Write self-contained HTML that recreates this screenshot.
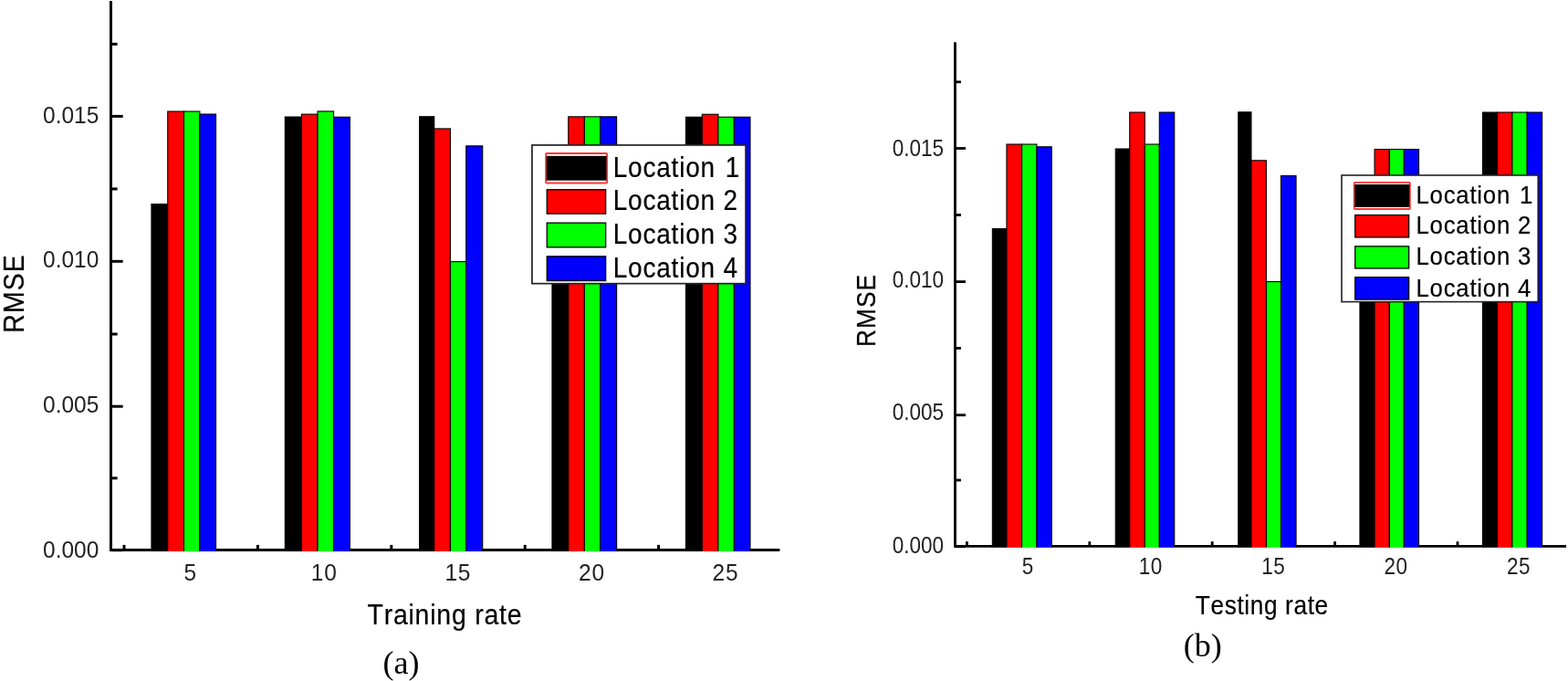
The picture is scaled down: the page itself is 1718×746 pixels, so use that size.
<!DOCTYPE html>
<html lang="en">
<head>
<meta charset="utf-8">
<title>RMSE versus training rate and testing rate</title>
<style>
html, body { margin: 0; padding: 0; background: #fff; }
body { width: 1718px; height: 746px; overflow: hidden; }
svg { display: block; font-family: "Liberation Sans", sans-serif; fill: #000; font-kerning: none; }
.b { stroke: #000; stroke-width: 0.2px; stroke-linejoin: round; }
</style>
</head>
<body>
<svg role="img" aria-label="Bar charts of RMSE for four locations versus training rate (a) and testing rate (b)" width="1718" height="746" viewBox="0 0 1718 746">
<rect width="1718" height="746" fill="#fff"/>
<g id="chart-a">
<g stroke="#000" stroke-width="1.10">
<rect x="165.95" y="223.55" width="17.80" height="385.05" fill="#000000"/>
<rect x="183.75" y="122.05" width="17.75" height="486.55" fill="#ff0000"/>
<rect x="201.50" y="122.05" width="17.40" height="486.55" fill="#00ff00"/>
<rect x="218.90" y="125.05" width="17.65" height="483.55" fill="#0000ff"/>
<rect x="312.30" y="128.05" width="18.15" height="480.55" fill="#000000"/>
<rect x="330.45" y="125.15" width="17.55" height="483.45" fill="#ff0000"/>
<rect x="348.00" y="121.95" width="17.60" height="486.65" fill="#00ff00"/>
<rect x="365.60" y="128.25" width="17.75" height="480.35" fill="#0000ff"/>
<rect x="459.55" y="127.75" width="16.20" height="480.85" fill="#000000"/>
<rect x="475.75" y="140.95" width="17.65" height="467.65" fill="#ff0000"/>
<rect x="493.40" y="286.65" width="17.30" height="321.95" fill="#00ff00"/>
<rect x="510.70" y="159.85" width="18.05" height="448.75" fill="#0000ff"/>
<rect x="604.95" y="250.55" width="17.80" height="358.05" fill="#000000"/>
<rect x="622.75" y="127.85" width="17.55" height="480.75" fill="#ff0000"/>
<rect x="640.30" y="127.85" width="17.30" height="480.75" fill="#00ff00"/>
<rect x="657.60" y="127.85" width="18.05" height="480.75" fill="#0000ff"/>
<rect x="751.45" y="128.25" width="17.80" height="480.35" fill="#000000"/>
<rect x="769.25" y="125.25" width="17.65" height="483.35" fill="#ff0000"/>
<rect x="786.90" y="128.25" width="17.40" height="480.35" fill="#00ff00"/>
<rect x="804.30" y="128.25" width="17.65" height="480.35" fill="#0000ff"/>
</g>
<rect x="123.00" y="604.05" width="742.90" height="8" fill="#fff"/>
<g stroke="#000" stroke-width="3.00" fill="none">
<path d="M121.50 1.00 V604.05"/>
<path d="M121.50 602.55 H165.90"/>
<path d="M236.60 602.55 H312.25"/>
<path d="M383.40 602.55 H459.50"/>
<path d="M528.80 602.55 H604.90"/>
<path d="M675.70 602.55 H751.40"/>
<path d="M822.00 602.55 H854.40"/>
<path d="M121.50 127.40 H134.70"/>
<path d="M121.50 286.30 H134.70"/>
<path d="M121.50 445.20 H134.70"/>
<path d="M121.50 602.70 H134.70"/>
<path d="M121.50 48.30 H128.60"/>
<path d="M121.50 206.95 H128.60"/>
<path d="M121.50 366.00 H128.60"/>
<path d="M121.50 523.80 H128.60"/>
<path d="M136.00 602.55 V596.90"/>
<path d="M282.40 602.55 V596.90"/>
<path d="M428.80 602.55 V596.90"/>
<path d="M575.20 602.55 V596.90"/>
<path d="M721.60 602.55 V596.90"/>
</g>
<text transform="translate(108.30 135.10) scale(1.0000 1.0800)" font-size="24.50" text-anchor="end" fill="#222">0.015</text>
<text transform="translate(108.30 292.70) scale(1.0000 1.0800)" font-size="24.50" text-anchor="end" fill="#222">0.010</text>
<text transform="translate(108.30 451.80) scale(1.0000 1.0800)" font-size="24.50" text-anchor="end" fill="#222">0.005</text>
<text transform="translate(108.30 610.70) scale(1.0000 1.0800)" font-size="24.50" text-anchor="end" fill="#222">0.000</text>
<text transform="translate(208.20 635.60) scale(1.0000 1.0800)" font-size="24.50" text-anchor="middle" fill="#222">5</text>
<text transform="translate(355.20 635.60) scale(1.0000 1.0800)" font-size="24.50" text-anchor="middle" letter-spacing="0.80" fill="#222">10</text>
<text transform="translate(501.80 635.60) scale(1.0000 1.0800)" font-size="24.50" text-anchor="middle" letter-spacing="0.80" fill="#222">15</text>
<text transform="translate(648.40 635.60) scale(1.0000 1.0800)" font-size="24.50" text-anchor="middle" letter-spacing="0.80" fill="#222">20</text>
<text transform="translate(795.00 635.60) scale(1.0000 1.0800)" font-size="24.50" text-anchor="middle" letter-spacing="0.80" fill="#222">25</text>
<text transform="translate(487.40 683.80) scale(0.9500 1.0500)" font-size="29.95" class="b" text-anchor="middle" letter-spacing="0.82">Training rate</text>
<text transform="translate(25.70 321.50) rotate(-90) scale(0.9500 1.0600)" font-size="29.95" class="b" text-anchor="middle" letter-spacing="1.14">RMSE</text>
<text transform="translate(439.40 738.00)" font-size="36.00" text-anchor="middle" font-family="'Liberation Serif', serif">(a)</text>
<rect x="582.95" y="158.95" width="234.10" height="151.70" fill="#fff" stroke="#222" stroke-width="1.70"/>
<rect x="598.15" y="167.95" width="66.90" height="32.60" fill="#fff" stroke="#ff3535" stroke-width="1.9" rx="0.8"/>
<rect x="598.70" y="170.80" width="65.80" height="26.90" fill="#000"/>
<text transform="translate(671.70 193.70) scale(0.9500 1.0400)" font-size="29.40" class="b" letter-spacing="0.88">Location <tspan dx="2.4">1</tspan></text>
<rect x="599.25" y="207.75" width="64.40" height="26.40" fill="#ff0000" stroke="#000" stroke-width="1.3"/>
<text transform="translate(671.70 230.00) scale(0.9500 1.0400)" font-size="29.40" class="b" letter-spacing="0.88">Location <tspan dx="0.0">2</tspan></text>
<rect x="599.25" y="244.15" width="64.40" height="26.70" fill="#00ff00" stroke="#000" stroke-width="1.3"/>
<text transform="translate(671.70 267.20) scale(0.9500 1.0400)" font-size="29.40" class="b" letter-spacing="0.88">Location <tspan dx="0.0">3</tspan></text>
<rect x="599.25" y="280.85" width="64.40" height="26.70" fill="#0000ff" stroke="#000" stroke-width="1.3"/>
<text transform="translate(671.70 303.90) scale(0.9500 1.0400)" font-size="29.40" class="b" letter-spacing="0.88">Location <tspan dx="0.0">4</tspan></text>
</g>
<g id="chart-b">
<g stroke="#000" stroke-width="1.10">
<rect x="1087.35" y="250.55" width="15.60" height="353.85" fill="#000000"/>
<rect x="1102.95" y="158.05" width="16.65" height="446.35" fill="#ff0000"/>
<rect x="1119.60" y="158.05" width="16.30" height="446.35" fill="#00ff00"/>
<rect x="1135.90" y="160.80" width="16.35" height="443.60" fill="#0000ff"/>
<rect x="1222.25" y="163.05" width="15.50" height="441.35" fill="#000000"/>
<rect x="1237.75" y="123.05" width="16.55" height="481.35" fill="#ff0000"/>
<rect x="1254.30" y="158.05" width="16.00" height="446.35" fill="#00ff00"/>
<rect x="1270.30" y="123.05" width="16.45" height="481.35" fill="#0000ff"/>
<rect x="1356.75" y="122.80" width="14.20" height="481.60" fill="#000000"/>
<rect x="1370.95" y="175.80" width="16.45" height="428.60" fill="#ff0000"/>
<rect x="1387.40" y="308.55" width="16.10" height="295.85" fill="#00ff00"/>
<rect x="1403.50" y="192.55" width="16.55" height="411.85" fill="#0000ff"/>
<rect x="1489.95" y="250.55" width="16.10" height="353.85" fill="#000000"/>
<rect x="1506.05" y="163.55" width="16.25" height="440.85" fill="#ff0000"/>
<rect x="1522.30" y="163.55" width="16.00" height="440.85" fill="#00ff00"/>
<rect x="1538.30" y="163.55" width="16.25" height="440.85" fill="#0000ff"/>
<rect x="1624.45" y="123.05" width="15.90" height="481.35" fill="#000000"/>
<rect x="1640.35" y="123.05" width="16.55" height="481.35" fill="#ff0000"/>
<rect x="1656.90" y="123.05" width="16.30" height="481.35" fill="#00ff00"/>
<rect x="1673.20" y="123.05" width="16.45" height="481.35" fill="#0000ff"/>
</g>
<rect x="1047.85" y="599.85" width="679.55" height="8" fill="#fff"/>
<g stroke="#000" stroke-width="2.80" fill="none">
<path d="M1046.45 46.25 V599.85"/>
<path d="M1046.45 598.45 H1087.30"/>
<path d="M1152.30 598.45 H1222.20"/>
<path d="M1286.80 598.45 H1356.70"/>
<path d="M1420.10 598.45 H1489.90"/>
<path d="M1554.60 598.45 H1624.40"/>
<path d="M1689.70 598.45 H1716.00"/>
<path d="M1046.45 162.50 H1058.00"/>
<path d="M1046.45 308.60 H1058.00"/>
<path d="M1046.45 454.70 H1058.00"/>
<path d="M1046.45 598.75 H1058.00"/>
<path d="M1046.45 89.80 H1052.90"/>
<path d="M1046.45 235.50 H1052.90"/>
<path d="M1046.45 381.40 H1052.90"/>
<path d="M1046.45 526.00 H1052.90"/>
<path d="M1059.40 598.45 V593.20"/>
<path d="M1193.80 598.45 V593.20"/>
<path d="M1328.20 598.45 V593.20"/>
<path d="M1462.60 598.45 V593.20"/>
<path d="M1597.00 598.45 V593.20"/>
</g>
<text transform="translate(1034.00 170.70) scale(1.0000 1.1400)" font-size="22.50" text-anchor="end" fill="#222">0.015</text>
<text transform="translate(1034.00 314.80) scale(1.0000 1.1400)" font-size="22.50" text-anchor="end" fill="#222">0.010</text>
<text transform="translate(1034.00 460.30) scale(1.0000 1.1400)" font-size="22.50" text-anchor="end" fill="#222">0.005</text>
<text transform="translate(1034.00 606.10) scale(1.0000 1.1400)" font-size="22.50" text-anchor="end" fill="#222">0.000</text>
<text transform="translate(1126.00 628.75) scale(1.0000 1.1400)" font-size="22.50" text-anchor="middle" fill="#222">5</text>
<text transform="translate(1260.70 628.75) scale(1.0000 1.1400)" font-size="22.50" text-anchor="middle" letter-spacing="0.50" fill="#222">10</text>
<text transform="translate(1395.15 628.75) scale(1.0000 1.1400)" font-size="22.50" text-anchor="middle" letter-spacing="0.50" fill="#222">15</text>
<text transform="translate(1529.60 628.75) scale(1.0000 1.1400)" font-size="22.50" text-anchor="middle" letter-spacing="0.50" fill="#222">20</text>
<text transform="translate(1664.05 628.75) scale(1.0000 1.1400)" font-size="22.50" text-anchor="middle" letter-spacing="0.50" fill="#222">25</text>
<text transform="translate(1382.80 672.70) scale(0.9500 1.0500)" font-size="27.60" class="b" text-anchor="middle" letter-spacing="0.66">Testing rate</text>
<text transform="translate(959.40 340.00) rotate(-90) scale(0.9550 1.0800)" font-size="27.60" class="b" text-anchor="middle" letter-spacing="1.00">RMSE</text>
<text transform="translate(1317.80 718.70)" font-size="36.00" text-anchor="middle" font-family="'Liberation Serif', serif">(b)</text>
<rect x="1470.00" y="192.00" width="215.20" height="138.60" fill="#fff" stroke="#222" stroke-width="1.60"/>
<rect x="1483.75" y="199.85" width="61.10" height="29.20" fill="#fff" stroke="#ff3535" stroke-width="1.9" rx="0.8"/>
<rect x="1484.30" y="202.00" width="60.00" height="25.00" fill="#000"/>
<text transform="translate(1551.50 223.10) scale(0.9500 1.0400)" font-size="27.10" class="b" letter-spacing="0.82">Location <tspan dx="2.2">1</tspan></text>
<rect x="1484.75" y="235.55" width="58.90" height="24.40" fill="#ff0000" stroke="#000" stroke-width="1.3"/>
<text transform="translate(1551.50 256.40) scale(0.9500 1.0400)" font-size="27.10" class="b" letter-spacing="0.82">Location <tspan dx="0.0">2</tspan></text>
<rect x="1484.75" y="269.85" width="58.90" height="24.10" fill="#00ff00" stroke="#000" stroke-width="1.3"/>
<text transform="translate(1551.50 290.10) scale(0.9500 1.0400)" font-size="27.10" class="b" letter-spacing="0.82">Location <tspan dx="0.0">3</tspan></text>
<rect x="1484.75" y="303.65" width="58.90" height="24.40" fill="#0000ff" stroke="#000" stroke-width="1.3"/>
<text transform="translate(1551.50 324.50) scale(0.9500 1.0400)" font-size="27.10" class="b" letter-spacing="0.82">Location <tspan dx="0.0">4</tspan></text>
</g>
</svg>
</body>
</html>
